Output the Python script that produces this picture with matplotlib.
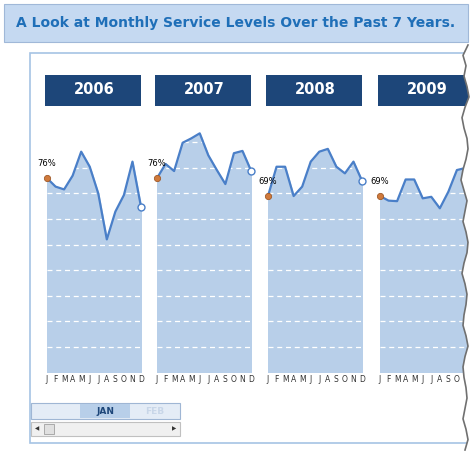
import matplotlib
matplotlib.use("Agg")
import matplotlib.pyplot as plt
from matplotlib.patches import Rectangle, Polygon
import numpy as np

years = ["2006", "2007", "2008", "2009"]
months = ["J", "F", "M", "A", "M", "J", "J", "A", "S", "O", "N", "D"]
v2006 = [76, 72.7, 71.6, 77, 86.4, 80.5, 70, 52, 62.9, 69.4, 82.5, 64.8]
v2007 = [76, 81.6, 78.8, 89.9, 91.6, 93.6, 85, 79.2, 73.7, 85.8, 86.7, 79]
v2008 = [69, 80.5, 80.5, 69, 72.7, 82.5, 86.4, 87.5, 80.5, 77.9, 82.5, 75]
v2009 = [69, 67.2, 67, 75.5, 75.5, 68.1, 68.7, 64.2, 70.7, 79.2, 80, 78]
series = [v2006, v2007, v2008, v2009]
panel_x = [(47, 141), (157, 251), (268, 362), (380, 474)]

W, H = 474, 455
fig = plt.figure(figsize=(W/100, H/100), dpi=100)
fig.patch.set_facecolor("white")

def box(x0, y0, x1, y1):
    return [x0/W, 1-y1/H, (x1-x0)/W, (y1-y0)/H]

bg = fig.add_axes([0, 0, 1, 1]); bg.set_xlim(0, W); bg.set_ylim(H, 0); bg.axis("off")
bg.add_patch(Rectangle((4, 4), 464, 38, facecolor="#c5d9f1", edgecolor="#a0b8d8", lw=0.8))
bg.text(236, 23, "A Look at Monthly Service Levels Over the Past 7 Years.", ha="center", va="center",
        fontsize=10, fontweight="bold", color="#1f6fb8")
bg.add_patch(Rectangle((30, 53), 440, 390, facecolor="white", edgecolor="#a6c4e4", lw=1.2))

fill_c = "#b8cfe9"; line_c = "#4a7fc8"
for yr, vals, (x0, x1) in zip(years, series, panel_x):
    bg.add_patch(Rectangle((x0-2, 75), x1-x0+2, 31, facecolor="#1d4679", edgecolor="none"))
    bg.text((x0+x1)/2, 90, yr, ha="center", va="center", color="white", fontsize=10.5, fontweight="bold")
    ax = fig.add_axes(box(x0, 117, x1, 372))
    ax.set_xlim(0, 11); ax.set_ylim(0, 100); ax.axis("off")
    x = np.arange(12)
    ax.fill_between(x, vals, 0, color=fill_c, zorder=1)
    for g in range(10, 100, 10):
        ax.axhline(g, color="white", ls=(0, (4, 3)), lw=0.9, zorder=2)
    ax.plot(x, vals, color=line_c, lw=1.6, zorder=3, clip_on=False)
    ax.plot(0, vals[0], "o", color="#d07a3c", ms=4.5, mec="#a05a28", mew=0.6, zorder=4, clip_on=False)
    ax.plot(11, vals[-1], "o", mfc="white", mec=line_c, ms=5, mew=1, zorder=4, clip_on=False)
    ax.text(0, vals[0]+4, f"{int(round(vals[0]))}%", fontsize=6, ha="center", va="bottom", zorder=5, clip_on=False)
    for i, m in enumerate(months):
        px = x0 + i*(x1-x0)/11
        if px < 462:
            bg.text(px, 380, m, ha="center", va="center", fontsize=5.5, color="#333333")

# torn edge overlay on top of everything
top = fig.add_axes([0, 0, 1, 1]); top.set_xlim(0, W); top.set_ylim(H, 0); top.axis("off")
top.patch.set_alpha(0)
ty = np.linspace(45, 450, 40)
tx = 465 + np.array([3,-2,1,-1,2,4,0,-3,-1,2,3,1,-2,-4,-1,2,0,-2,1,3,2,-1,-3,0,2,1,-1,-2,1,3,0,-2,-1,1,2,0,-2,1,3,0])
poly = np.vstack([np.column_stack([tx, ty]), [[W, 450], [W, 45]]])
top.add_patch(Polygon(poly, closed=True, facecolor="white", edgecolor="none", zorder=10))
top.plot(tx, ty, color="#707070", lw=1.2, zorder=11)

bg.add_patch(Rectangle((31, 403), 149, 16, facecolor="#e4ecf6", edgecolor="#9fb6d4", lw=0.8))
bg.add_patch(Rectangle((80, 404), 50, 14, facecolor="#b8cfe9", edgecolor="none"))
bg.text(105, 411, "JAN", ha="center", va="center", fontsize=6.5, fontweight="bold", color="#1d4679")
bg.text(155, 411, "FEB", ha="center", va="center", fontsize=6.5, fontweight="bold", color="#c8d6e8")
bg.add_patch(Rectangle((31, 422), 149, 14, facecolor="#f0f0f0", edgecolor="#c0c0c0", lw=0.8))
bg.add_patch(Rectangle((44, 424), 10, 10, facecolor="#e0e0e0", edgecolor="#a0a0a0", lw=0.6))
bg.text(37, 429, "◀", fontsize=4, ha="center", va="center", color="#333")
bg.text(174, 429, "▶", fontsize=4, ha="center", va="center", color="#333")

fig.savefig("out.png", dpi=100)
